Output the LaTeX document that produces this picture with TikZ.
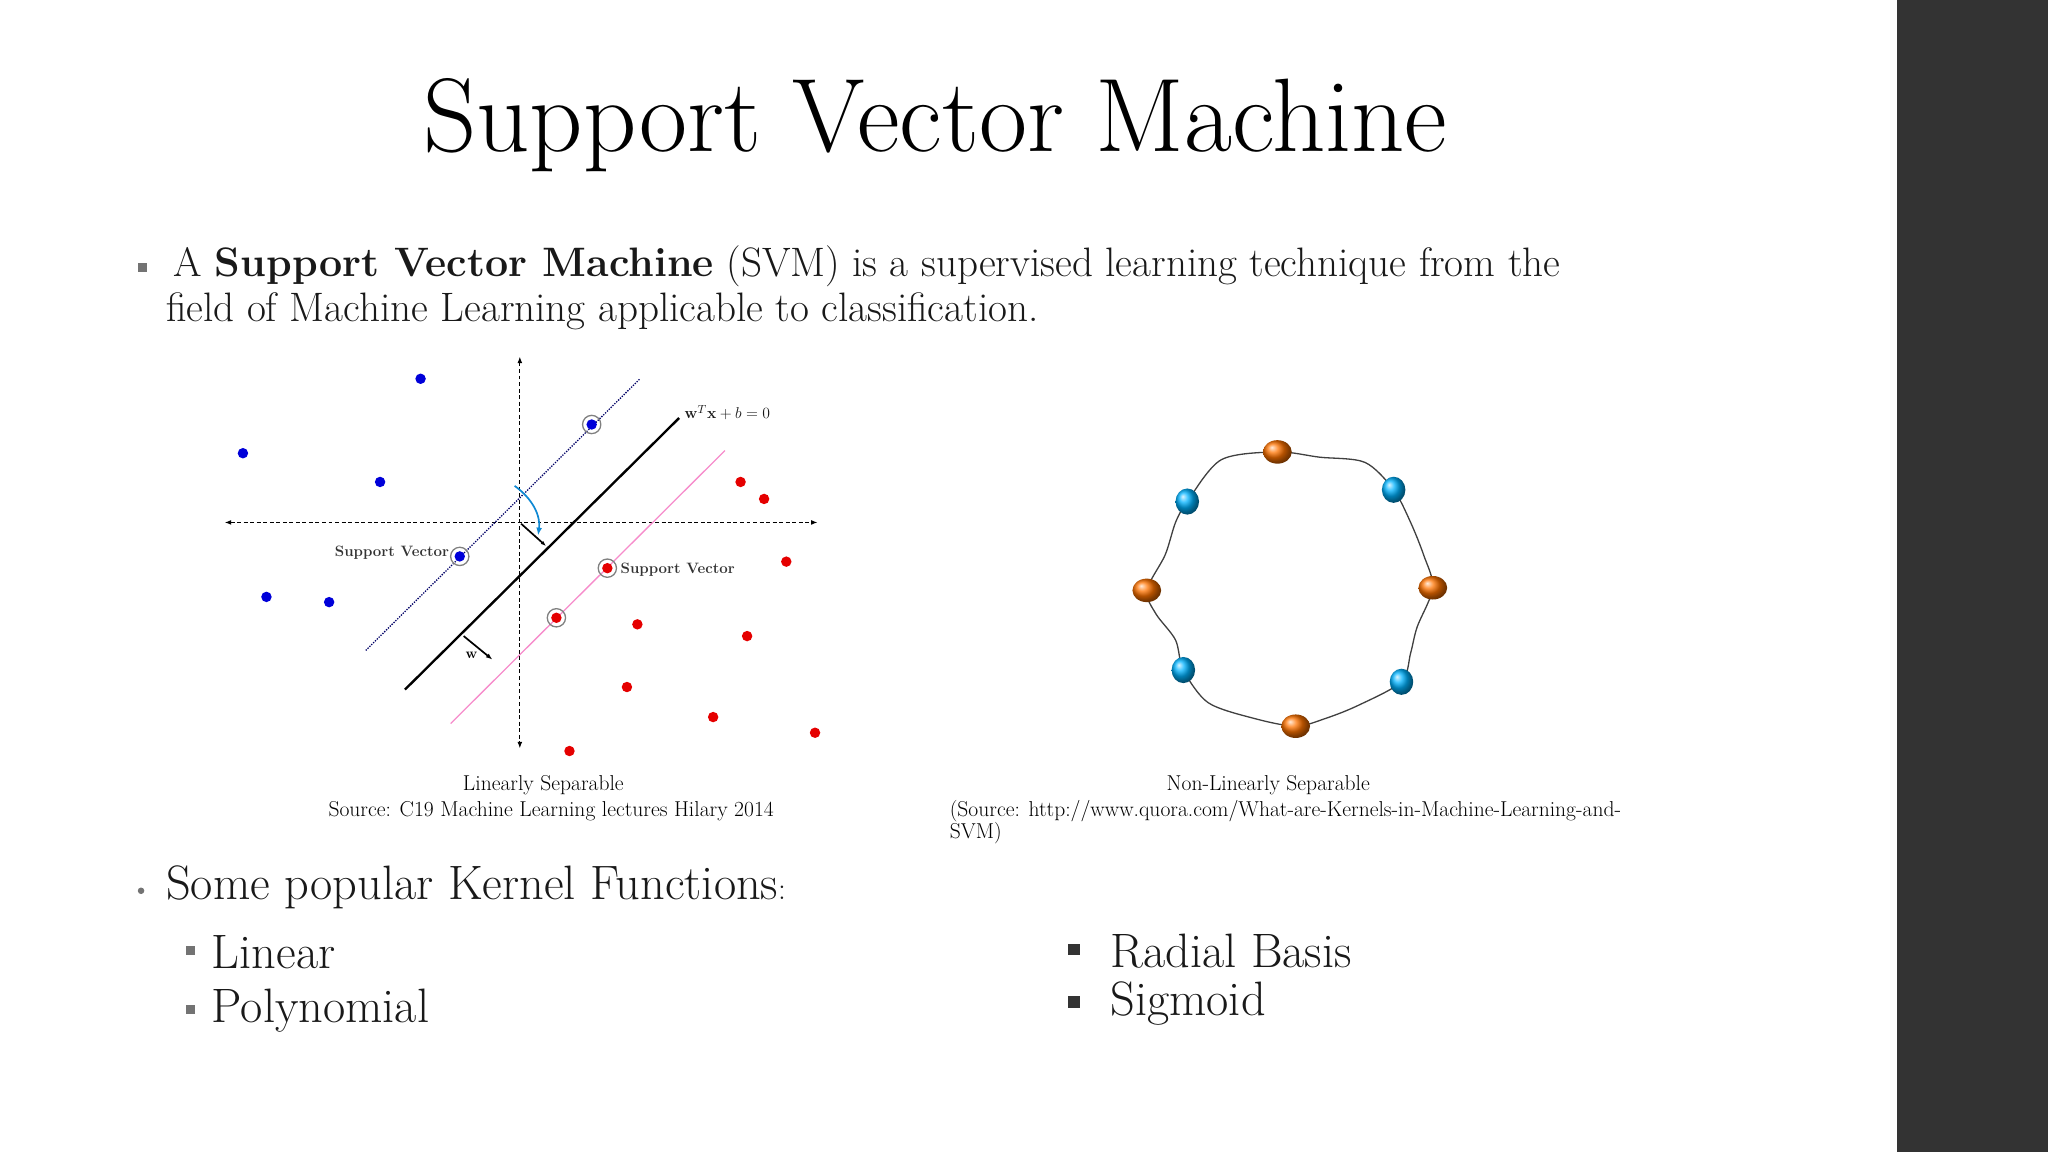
\documentclass[tikz,border=0pt]{standalone}
\usetikzlibrary{arrows.meta,shapes.geometric}
\begin{document}
\begin{tikzpicture}[x=1pt,y=-1pt,
  txt/.style={inner sep=0,anchor=west,text=black!90},
  bsq/.style={fill=black!55,minimum size=7pt,inner sep=0},
  bsq2/.style={fill=black!80,minimum size=9pt,inner sep=0},
  bdot/.style={circle,fill=blue!85!black,minimum size=8pt,inner sep=0},
  rdot/.style={circle,fill=red!90!black,minimum size=8pt,inner sep=0},
  sv/.style={draw=gray,line width=1pt,circle,minimum size=14pt,inner sep=0},
  axis/.style={densely dashed,line width=0.9pt,{Latex[length=5pt]}-{Latex[length=5pt]}},
  ob/.style={ellipse,minimum width=22pt,minimum height=18pt,inner sep=0,shading=ball,ball color=orange!90!red},
  bl/.style={ellipse,minimum width=18pt,minimum height=20pt,inner sep=0,shading=ball,ball color=cyan!70!blue},
  capt/.style={inner sep=0,font=\fontsize{16.5}{18}\selectfont},
  big/.style={font=\fontsize{37}{42}\selectfont}]
\useasboundingbox (0,0) rectangle (1568,882);
\fill[black!80] (1452,0) rectangle (1568,882);
\node[inner sep=0,font=\fontsize{80}{86}\selectfont] (title) at (716,96) {Support Vector Machine};
% bullet 1
\node[bsq] (b1) at (109,205) {};
\node[txt,font=\fontsize{31.5}{36}\selectfont] (t1) at (133,204) {A \textbf{Support Vector Machine} (SVM) is a supervised learning technique from the};
\node[txt,font=\fontsize{31.5}{36}\selectfont] (t2) at (127,238) {field of Machine Learning applicable to classification.};
% left plot
\coordinate (hx1) at (172,400); \coordinate (hx2) at (626,400);
\coordinate (vy1) at (398,273); \coordinate (vy2) at (398,573);
\draw[axis] (hx1) -- (hx2);
\draw[axis] (vy1) -- (vy2);
\coordinate (s1) at (310,528); \coordinate (s2) at (520,320);
\draw[line width=1.8pt] (s1) -- (s2);
\coordinate (u1) at (280,498); \coordinate (u2) at (490,290);
\draw[densely dotted,line width=1pt,blue!40!black] (u1) -- (u2);
\coordinate (p1) at (345,554); \coordinate (p2) at (555,345);
\draw[line width=1pt,magenta!45] (p1) -- (p2);
\coordinate (o) at (399,401); \coordinate (f) at (418,418);
\draw[line width=1.3pt,-{Latex[length=4pt]}] (o) -- (f);
\coordinate (wa) at (355,487); \coordinate (wb) at (377,505);
\draw[line width=1.3pt,-{Latex[length=5pt]}] (wa) -- (wb);
\node[inner sep=0,font=\bfseries\fontsize{11}{12}\selectfont] (wl) at (361,502) {w};
\coordinate (ca) at (394,372); \coordinate (cb) at (412,410);
\draw[cyan!70!blue,line width=1.3pt,-{Latex[length=6pt]}] (ca) .. controls (408,382) and (414,395) .. (cb);
\node[txt,font=\fontsize{13}{14}\selectfont] (eq) at (524,316) {$\mathbf{w}^T\mathbf{x}+b=0$};
\foreach \n/\p in {a/{322,290},b/{186,347},c/{291,369},d/{204,457},e/{252,461}} \node[bdot] (bl\n) at (\p) {};
\foreach \n/\p in {a/{453,325},b/{352,426}} {\node[sv] (sb\n) at (\p) {}; \node[bdot] at (\p) {};}
\foreach \n/\p in {a/{567,369},b/{585,382},c/{602,430},d/{572,487},e/{488,478},f/{480,526},g/{546,549},h/{624,561},i/{436,575}} \node[rdot] (rd\n) at (\p) {};
\foreach \n/\p in {a/{465,435},b/{426,473}} {\node[sv] (sr\n) at (\p) {}; \node[rdot] at (\p) {};}
\node[inner sep=0,anchor=east,font=\bfseries\fontsize{11.5}{13}\selectfont,text=black!80] (svl) at (344,423) {Support Vector};
\node[inner sep=0,anchor=west,font=\bfseries\fontsize{11.5}{13}\selectfont,text=black!80] (svr) at (475,436) {Support Vector};
\node[capt] (c1) at (416,601) {Linearly Separable};
\node[capt] (c2) at (422,621) {Source: C19 Machine Learning lectures Hilary 2014};
% right ring
\draw[black!75,line width=1pt] plot[smooth cycle,tension=0.5] coordinates {(978,346)(1010,350)(1045,354)(1067,375)(1080,400)(1090,425)(1097,450)(1085,480)(1080,500)(1073,522)(1040,540)(1015,550)(992,556)(960,550)(925,538)(906,513)(900,490)(885,470)(878,452)(892,425)(900,400)(909,384)(935,352)};
\foreach \n/\p in {a/{978,346},b/{1097,450},c/{992,556},d/{878,452}} \node[ob] (o\n) at (\p) {};
\foreach \n/\p in {a/{909,384},b/{1067,375},c/{1073,522},d/{906,513}} \node[bl] (c\n) at (\p) {};
\node[capt] (c3) at (971,601) {Non-Linearly Separable};
\node[capt,anchor=west] (c4) at (727,621) {(Source: http://www.quora.com/What-are-Kernels-in-Machine-Learning-and-};
\node[capt,anchor=west] (c5) at (727,638) {SVM)};
% bullet 2
\node[circle,fill=black!55,minimum size=5pt,inner sep=0] (b2) at (108,682) {};
\node[txt,big] (k) at (127,679) {Some popular Kernel Functions{\fontsize{24}{26}\selectfont:}};
\node[bsq] (q1) at (146,728) {};
\node[bsq] (q2) at (146,773) {};
\node[txt,big] (l1) at (162,729) {Linear};
\node[txt,big] (l2) at (162,774) {Polynomial};
\node[bsq2] (q3) at (822,727) {};
\node[bsq2] (q4) at (822,767) {};
\node[txt,big] (l3) at (850,728) {Radial Basis};
\node[txt,big] (l4) at (850,768) {Sigmoid};
\end{tikzpicture}
\end{document}
